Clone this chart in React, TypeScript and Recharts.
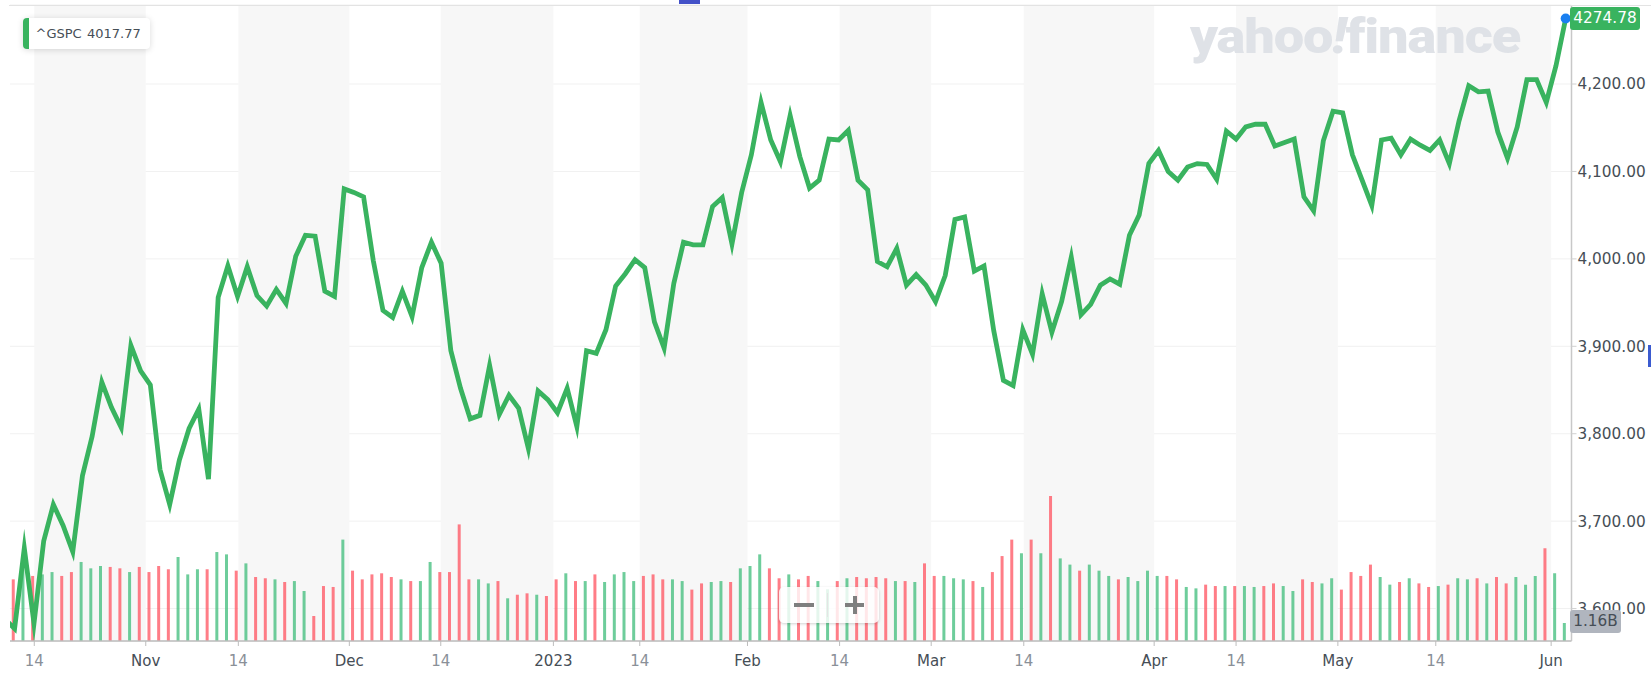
import { Bar, CartesianGrid, ComposedChart, Line, ReferenceArea, ReferenceDot, XAxis, YAxis } from "recharts";

const closes = [
  3588, 3577, 3669, 3583, 3677, 3719, 3695, 3665, 3752, 3797, 3859, 3830, 3807, 3901, 3872,
  3856, 3759, 3719, 3770, 3806, 3828, 3748, 3956, 3992, 3957, 3991, 3958, 3946, 3965, 3949, 4003, 4027, 4026, 3963, 3957, 4080,
  4076, 4071, 3998, 3941, 3933, 3963, 3934, 3990, 4019, 3995, 3895, 3852, 3817, 3821, 3878, 3822, 3844, 3829, 3783, 3849, 3839,
  3824, 3852, 3808, 3895, 3892, 3919, 3969, 3983, 3999, 3990, 3928, 3898, 3972, 4019, 4016, 4016, 4060, 4070, 4017, 4076,
  4119, 4179, 4136, 4111, 4164, 4117, 4081, 4090, 4137, 4136, 4147, 4090, 4079, 3997, 3991, 4012, 3970, 3982, 3970,
  3951, 3981, 4045, 4048, 3986, 3992, 3918, 3861, 3855, 3919, 3891, 3960, 3916, 3951, 4002, 3936, 3948, 3970, 3977, 3971, 4027, 4050, 4109,
  4124, 4100, 4090, 4105, 4109, 4108, 4091, 4146, 4137, 4151, 4154, 4154, 4129, 4133, 4137, 4071, 4055, 4135, 4169,
  4167, 4119, 4090, 4061, 4136, 4138, 4119, 4137, 4130, 4124, 4136, 4109, 4158, 4198, 4191, 4192, 4145, 4115, 4151, 4205, 4205, 4179,
  4221, 4275,
];

// volume in billions, first point sits left of the plot so it has none
const volumes = [
  0,
  3.97, 5.04, 4.19, 4.29, 4.44, 4.19, 4.44, 5.09, 4.68, 4.83, 4.77, 4.68, 4.44, 4.77, 4.44, 4.83, 4.62, 5.41, 4.29, 4.62, 4.62,
  5.73, 5.58, 4.53, 5.0, 4.12, 4.04, 3.97, 3.8, 3.86, 3.22, 1.61, 3.54, 3.48, 6.53, 4.53, 3.97, 4.29, 4.36, 4.12, 3.97, 3.86,
  3.86, 5.09, 4.44, 4.44, 7.51, 3.97, 3.97, 3.71, 3.86, 2.75, 2.98, 3.07, 2.98, 2.9, 3.97, 4.36, 3.86, 3.86, 4.29, 3.8, 4.29, 4.44,
  3.86, 4.19, 4.29, 3.97, 3.97, 3.86, 3.31, 3.71, 3.8, 3.86, 3.8, 4.68, 4.83, 5.58, 4.68, 4.04, 4.29, 3.97, 4.19, 3.86, 3.33, 3.86,
  4.04, 4.12, 4.04, 4.12, 4.04, 3.86, 3.86, 3.8, 5.0, 4.19, 4.19, 4.04, 3.97, 3.86, 3.48, 4.44, 5.47, 6.53, 5.65, 6.53, 5.65, 9.34,
  5.32, 4.92, 4.53, 4.92, 4.53, 4.19, 3.97, 4.12, 3.86, 4.53, 4.19, 4.19, 3.97, 3.48, 3.39, 3.63, 3.54, 3.54, 3.54, 3.54, 3.48,
  3.54, 3.71, 3.54, 3.22, 3.97, 3.8, 3.71, 4.04, 3.31, 4.44, 4.19, 4.92, 4.12, 3.63, 3.8, 4.04, 3.71, 3.48, 3.54, 3.63, 4.04, 3.97,
  4.04, 3.71, 4.12, 3.71, 4.12, 3.63, 4.19, 5.97, 4.36, 1.16,
];

const volumeDirs =
  "-" +
  "RGRGGRRGGGRRGRRRRGGGRGGRGRRGRGGRRRGRRRRRGR" +
  "GGRRRRGGRGRRGRRGRGRGGGGRRRGGRRGGRGGGRRGRRGGR" +
  "GRRRRGRGRRGGGRGRRRGRGRGGRGGGRGGGGRRGGRRGRGG" +
  "RRGGRRGGRRRRGGRGRRGRGGRGRRGGGRGG";

const yTicks = [3600, 3700, 3800, 3900, 4000, 4100, 4200];
const tickSpots = [3.03, 14.53, 24.08, 35.53, 44.96, 56.58, 65.49, 76.6, 86.1, 95.55, 105.1, 118.55, 127, 137.5, 147.6, 159.5];
const tickLabels = ["14", "Nov", "14", "Dec", "14", "2023", "14", "Feb", "14", "Mar", "14", "Apr", "14", "May", "14", "Jun"];

const rows = closes.map((close, i) => ({
  k: i,
  close,
  up: volumeDirs[i] === "G" ? volumes[i] : null,
  down: volumeDirs[i] === "R" ? volumes[i] : null,
}));

const font = "'DejaVu Sans', sans-serif";
const textDark = "#464e56";

function DateTick({ x, y, payload }: any) {
  const label = tickLabels[tickSpots.indexOf(payload.value)];
  return (
    <text x={x} y={y + 18} textAnchor="middle" fontFamily={font} fontSize={15} fill={label === "14" ? "#8a9098" : textDark}>
      {label}
    </text>
  );
}

const box: any = { position: "absolute" };

export default function App() {
  return (
    <div style={{ position: "absolute", left: 0, top: 0, width: 1651, height: 676, background: "#fff", overflow: "hidden" }}>
      <ComposedChart width={1651} height={676} data={rows} margin={{ top: 5, right: 0, bottom: 0, left: 10 }}>
        {tickSpots.slice(0, -1).map((s, i) =>
          i % 2 === 0 ? (
            <ReferenceArea key={s} x1={s} x2={tickSpots[i + 1]} yAxisId="price" fill="#f7f7f7" fillOpacity={1} stroke="none" ifOverflow="hidden" />
          ) : null
        )}
        <CartesianGrid yAxisId="price" vertical={false} stroke="#f1f1f1" strokeWidth={1} />
        <XAxis
          dataKey="k"
          type="number"
          domain={[0.526, 161.6]}
          allowDataOverflow
          ticks={tickSpots}
          interval={0}
          height={35}
          tick={<DateTick />}
          tickSize={5}
          tickLine={{ stroke: "#bdbdbd" }}
          axisLine={{ stroke: "#bdbdbd", strokeWidth: 1.5 }}
        />
        <XAxis xAxisId="bars" dataKey="k" type="number" domain={[0.629, 161.703]} allowDataOverflow hide />
        <YAxis
          yAxisId="price"
          orientation="right"
          domain={[3562.9, 4290.4]}
          allowDataOverflow
          ticks={yTicks}
          interval={0}
          width={79.5}
          tickSize={5}
          tickMargin={1}
          tickFormatter={(v: number) => v.toLocaleString("en-US", { minimumFractionDigits: 2 })}
          tick={{ fontFamily: font, fontSize: 15.3, fill: textDark }}
          tickLine={{ stroke: "#d0d0d0" }}
          axisLine={{ stroke: "#c8c8c8", strokeWidth: 1.5 }}
        />
        <YAxis yAxisId="vol" domain={[0, 40.96]} hide />
        <Line
          yAxisId="price"
          dataKey="close"
          type="linear"
          stroke="#39b35f"
          strokeWidth={4.8}
          strokeLinejoin="miter"
          strokeMiterlimit={10}
          dot={false}
          activeDot={false}
          isAnimationActive={false}
        />
        <Bar xAxisId="bars" yAxisId="vol" dataKey="up" stackId="v" barSize={3} fill="#3ebc7a" fillOpacity={0.75} isAnimationActive={false} />
        <Bar xAxisId="bars" yAxisId="vol" dataKey="down" stackId="v" barSize={3} fill="#ff525f" fillOpacity={0.75} isAnimationActive={false} />
        <ReferenceDot yAxisId="price" x={161} y={4275} r={5} fill="#1a7ff0" stroke="none" ifOverflow="visible" />
      </ComposedChart>

      <div style={{ ...box, left: 9, top: 5, width: 1642, height: 1, background: "#e3e3e3" }} />
      <div style={{ ...box, left: 1190, top: 7, fontFamily: "Roboto, sans-serif", fontWeight: 900, fontSize: 49, lineHeight: "60px", color: "#dfe2e7", letterSpacing: -1, transform: "scaleX(1.105)", transformOrigin: "left top", whiteSpace: "nowrap" }}>
        yahoo<span style={{ fontStyle: "italic" }}>!</span>finance
      </div>

      <div style={{ ...box, left: 23, top: 18, width: 127, height: 31, background: "#fff", borderRadius: 4, boxShadow: "0 1px 6px rgba(0,0,0,0.15)", overflow: "hidden", fontFamily: font, fontSize: 13, color: textDark, lineHeight: "31px", whiteSpace: "nowrap" }}>
        <div style={{ ...box, left: 0, top: 0, width: 6, height: 31, background: "#39b35f" }} />
        <span style={{ ...box, left: 12.5, top: 0 }}>^GSPC</span>
        <span style={{ ...box, left: 64, top: 0 }}>4017.77</span>
      </div>

      <div style={{ ...box, left: 1570, top: 7, width: 70, height: 23, background: "#39b35f", borderRadius: 3, color: "#fff", fontFamily: font, fontSize: 15.3, lineHeight: "23px", textAlign: "center" }}>
        4274.78
      </div>
      <div style={{ ...box, left: 1570, top: 610, width: 51, height: 23, background: "#b0b5be", borderRadius: 3, color: textDark, fontFamily: font, fontSize: 15.3, lineHeight: "23px", textAlign: "center" }}>
        1.16B
      </div>

      <div style={{ ...box, left: 779, top: 587, width: 100, height: 36, background: "rgba(255,255,255,0.82)", borderRadius: 5, boxShadow: "0 1px 3px rgba(0,0,0,0.18)" }}>
        <div style={{ ...box, left: 15, top: 16, width: 20, height: 4, background: "#7f7f7f" }} />
        <div style={{ ...box, left: 48, top: 6, width: 1, height: 24, background: "#e4e4e4" }} />
        <div style={{ ...box, left: 66, top: 16, width: 19, height: 4, background: "#7f7f7f" }} />
        <div style={{ ...box, left: 73.5, top: 9, width: 4, height: 18, background: "#7f7f7f" }} />
      </div>

      <div style={{ ...box, left: 679, top: 0, width: 21, height: 4, background: "#4351c8" }} />
      <div style={{ ...box, left: 1648, top: 345, width: 3, height: 22, background: "#3b5bd0" }} />
    </div>
  );
}
